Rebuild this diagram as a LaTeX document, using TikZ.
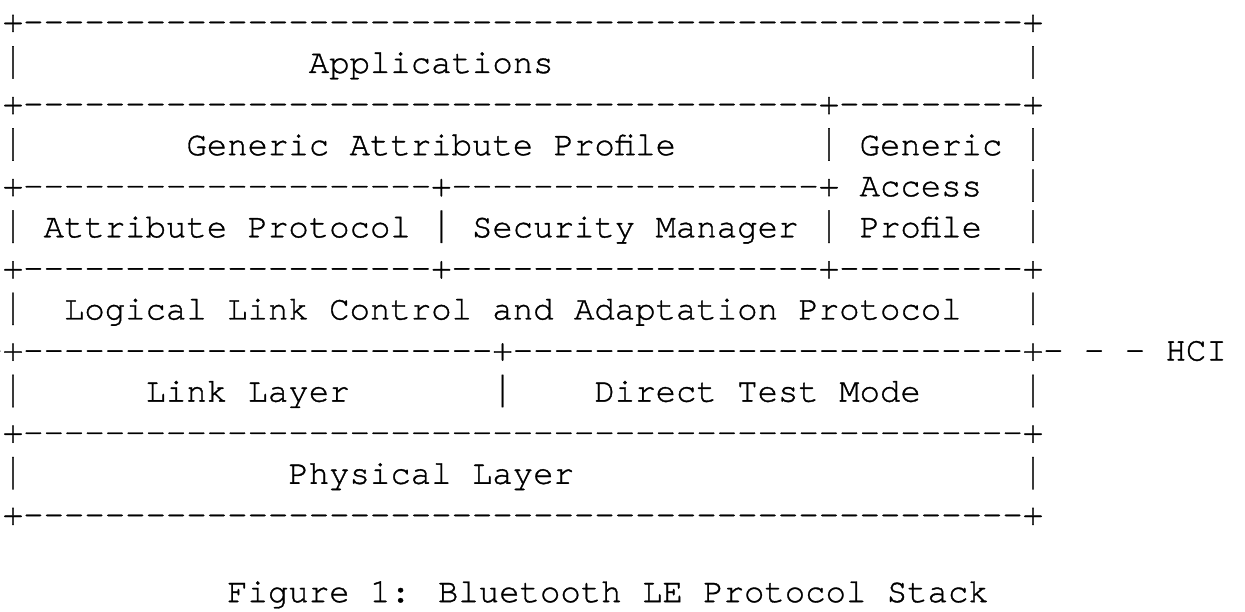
\documentclass[tikz,border=0pt]{standalone}
\usepackage{fontspec}
\newfontfamily\stackfont{texgyrecursor-regular.otf}[Ligatures=TeXOff, BoldFont=texgyrecursor-regular.otf, BoldFeatures={FakeBold=1}]
\newcommand{\dashrun}[1]{\foreach \k in {1,...,#1}{-}}
\newcommand{\vbar}{\scalebox{1}[1.3]{|}}
\tikzset{txt/.style={anchor=base west, inner sep=0pt, outer sep=0pt, font=\stackfont\bfseries\fontsize{34pt}{41pt}\selectfont}}

\begin{document}
\begin{tikzpicture}[x=20.4pt, y=-41.08pt]
  \useasboundingbox (0pt,0pt) rectangle (1245pt,-611pt);
  \begin{scope}[shift={(2.8pt,-31.9pt)}]
  % borders
  \node[txt] (b0) at (0,0) {+\dashrun{49}+};
  \node[txt] (b2) at (0,2) {+\dashrun{39}+\dashrun{9}+};
  \node[txt] (b4) at (0,4) {+\dashrun{20}+\dashrun{18}+};
  \node[txt] (b6) at (0,6) {+\dashrun{20}+\dashrun{18}+\dashrun{9}+};
  \node[txt] (hcil) at (-1,8) {-};
  \node[txt] (b8) at (0,8) {+\dashrun{23}+\dashrun{25}+- - - HCI};
  \node[txt] (b10) at (0,10) {+\dashrun{49}+};
  \node[txt] (b12) at (0,12) {+\dashrun{49}+};

  % side bars
  \foreach \r in {1,3,5,7,9,11} {
    \node[txt] (l\r) at (0,\r) {\vbar};
  }
  \foreach \r in {1,3,4,5,7,9,11} {
    \node[txt] (r\r) at (50,\r) {\vbar};
  }
  \node[txt] (m3) at (40,3) {\vbar};
  \node[txt] (m5a) at (21,5) {\vbar};
  \node[txt] (m5b) at (40,5) {\vbar};
  \node[txt] (m9) at (24,9) {\vbar};

  % layers
  \node[txt] (apps) at (15,1) {Applications};
  \node[txt] (gatt) at (9,3) {Generic Attribute Profile};
  \node[txt] (gap1) at (42,3) {Generic};
  \node[txt] (gap2) at (42,4) {Access};
  \node[txt] (gap3) at (42,5) {Profile};
  \node[txt] (att) at (2,5) {Attribute Protocol};
  \node[txt] (sm) at (23,5) {Security Manager};
  \node[txt] (l2cap) at (3,7) {Logical Link Control and Adaptation Protocol};
  \node[txt] (ll) at (7,9) {Link Layer};
  \node[txt] (dtm) at (29,9) {Direct Test Mode};
  \node[txt] (phy) at (14,11) {Physical Layer};

  \node[txt] (cap) at (11,13.88) {Figure 1: Bluetooth LE Protocol Stack};
  \end{scope}
\end{tikzpicture}
\end{document}
